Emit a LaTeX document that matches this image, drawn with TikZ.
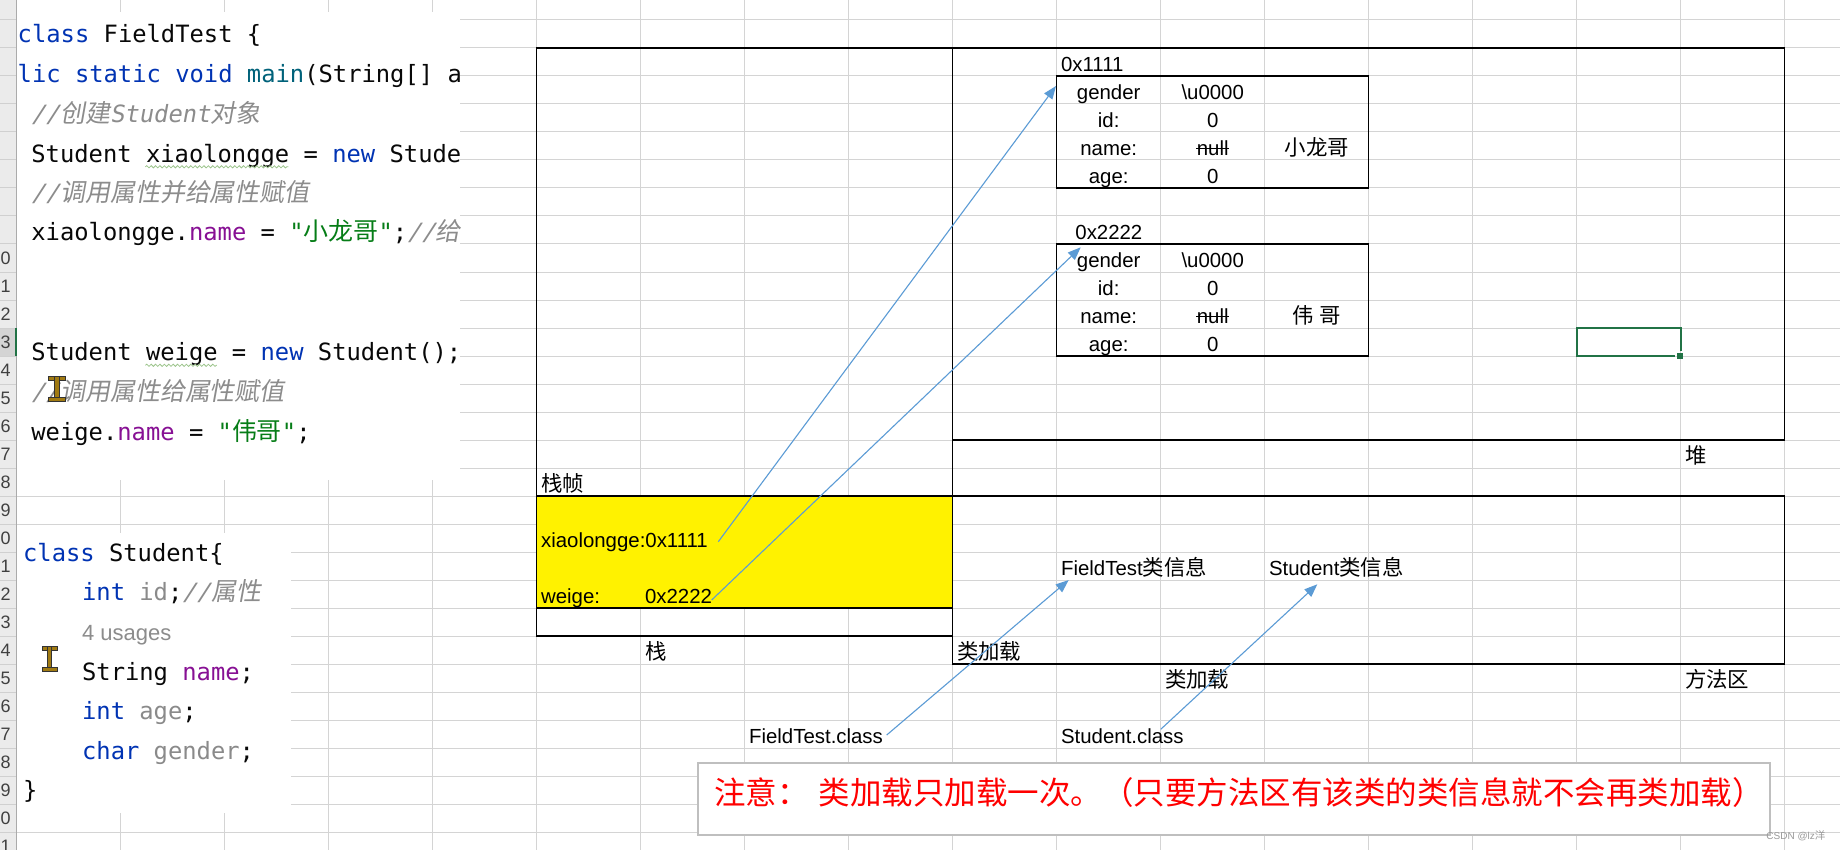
\documentclass[tikz,border=0pt]{standalone}
\usepackage{fontspec}
\setmainfont{Liberation Sans}
\newfontfamily\cjkf{Noto Sans CJK SC}[Scale=1.05]
\newfontfamily\codefont{DejaVu Sans Mono}
\newfontfamily\codeit{DejaVu Sans Mono}[FakeSlant=0.18]
\newfontfamily\codecjk{Noto Sans CJK SC}[Scale=1.05]
\newfontfamily\codecjkit{Noto Sans CJK SC}[Scale=1.05,FakeSlant=0.18]
\usetikzlibrary{arrows.meta,decorations.pathmorphing}
\definecolor{gridc}{HTML}{D4D4D4}
\definecolor{hdrbg}{HTML}{EBEBEB}
\definecolor{hdrline}{HTML}{D0D0D0}
\definecolor{hdrborder}{HTML}{ABABAB}
\definecolor{selgreen}{HTML}{217346}
\definecolor{arrowblue}{HTML}{5B9BD5}
\definecolor{ckwc}{HTML}{0033B3}
\definecolor{cfnc}{HTML}{00627A}
\definecolor{cfldc}{HTML}{871094}
\definecolor{cstrc}{HTML}{067D17}
\definecolor{ccmtc}{HTML}{8C8C8C}
\definecolor{cunc}{HTML}{8A8A8A}
\definecolor{ctxtc}{HTML}{080808}
\definecolor{wavyc}{HTML}{9BC48A}
\definecolor{beamc}{HTML}{A07A12}
\definecolor{noteborder}{HTML}{BFBFBF}
\newcommand\ckw[1]{\textcolor{ckwc}{#1}}
\newcommand\cfn[1]{\textcolor{cfnc}{#1}}
\newcommand\cfld[1]{\textcolor{cfldc}{#1}}
\newcommand\cstr[1]{\textcolor{cstrc}{#1}}
\newcommand\cun[1]{\textcolor{cunc}{#1}}
\newcommand\ccmt[1]{{\color{ccmtc}\codeit #1}}
\tikzset{
  gridline/.style={draw=gridc, line width=0.5pt},
  blk/.style={draw=black, line width=0.65pt},
  cell/.style={anchor=base west, inner sep=0pt, text=black, font=\fontsize{10.2pt}{12pt}\selectfont},
  cellc/.style={cell, anchor=base},
  codeline/.style={anchor=base west, inner sep=0pt, text=ctxtc, font=\codefont\fontsize{11.9pt}{14pt}\selectfont},
  hint/.style={anchor=base west, inner sep=0pt, text=ccmtc, font=\fontsize{11pt}{13pt}\selectfont},
  rownum/.style={anchor=base west, inner sep=0pt, text=black!75, font=\fontsize{9pt}{10pt}\selectfont},
  ptr/.style={draw=arrowblue, line width=0.55pt, -{Triangle[length=6.5pt,width=5pt]}, arrowblue},
  strike/.style={draw=black, line width=0.6pt},
  sel/.style={draw=selgreen, line width=0.85pt},
  wavy/.style={draw=wavyc, line width=0.4pt, decorate, decoration={snake, amplitude=0.55pt, segment length=2.2pt}},
  beam/.style={fill=beamc, draw=black!80, line width=0.3pt},
  notebox/.style={draw=noteborder, fill=white, line width=0.9pt},
  notetext/.style={anchor=base west, inner sep=0pt, text=red, font=\fontsize{15pt}{18pt}\selectfont\cjkf},
  wm/.style={anchor=base west, inner sep=0pt, text=black!40, font=\fontsize{5pt}{6pt}\selectfont}
}
\begin{document}
\begin{tikzpicture}[x=0.5pt,y=-0.5pt]
\useasboundingbox (0,0) rectangle (1840,850);
\fill[white] (0,0) rectangle (1840,850);
\clip (0,0) rectangle (1840,850);
% spreadsheet grid
\foreach \r in {0,...,29} \draw[gridline] (16.7,{20+28*\r}) -- (1840,{20+28*\r});
\foreach \c in {1,...,17} \draw[gridline] ({16.7+104*\c},0) -- ({16.7+104*\c},850);
% row header strip
\fill[hdrbg] (0,0) rectangle (16.7,850);
\fill[black!17] (0,328) rectangle (16.7,356);
\foreach \r in {0,...,29} \draw[draw=hdrline, line width=0.5pt] (0,{20+28*\r}) -- (16.7,{20+28*\r});
\draw[draw=hdrborder, line width=0.6pt] (16.7,0) -- (16.7,850);
\draw[draw=selgreen, line width=1pt] (15.9,328) -- (15.9,356);
\foreach \n/\d in {10/0,11/1,12/2,13/3,14/4,15/5,16/6,17/7,18/8,19/9,20/0,21/1,22/2,23/3,24/4,25/5,26/6,27/7,28/8,29/9,30/0,31/1}
  \node[rownum] (rn\n) at (0.3,{20+28*(\n-1)-7.5}) {\d};
% code panels
\fill[white] (17.2,12) rectangle (460,480);
\fill[white] (17.2,533) rectangle (291,813);
\begin{scope}
\clip (17.2,12) rectangle (460,480);
\node[codeline] (c1) at (17.3,42.7) {\ckw{class} FieldTest \{};
\node[codeline] (c2) at (17.3,82.2) {\ckw{lic static void} \cfn{main}(String[] a};
\node[codeline] (c3) at (31,122.3) {\ccmt{//{\codecjkit 创建}Student{\codecjkit 对象}}};
\node[codeline] (c4) at (31,162.2) {Student xiaolongge = \ckw{new} Stude};
\node[codeline] (c5) at (31,202) {\ccmt{//{\codecjkit 调用属性并给属性赋值}}};
\node[codeline] (c6) at (31,241) {xiaolongge.\cfld{name} = \cstr{"{\codecjk 小龙哥}"};\ccmt{//{\codecjkit 给}}};
\node[codeline] (c9) at (31,360.7) {Student weige = \ckw{new} Student();};
\node[codeline] (c10) at (31,400.3) {\ccmt{//{\codecjkit 调用属性给属性赋值}}};
\node[codeline] (c11) at (31,440.2) {weige.\cfld{name} = \cstr{"{\codecjk 伟哥}"};};
\draw[wavy] (145.4,166.8) -- (288.4,166.8);
\draw[wavy] (145.4,365.3) -- (216.9,365.3);
\fill[beam] (48,376) rectangle (65,380);
\fill[beam] (54.3,376) rectangle (59.3,401);
\fill[beam] (48,397) rectangle (65,401);
\end{scope}
\begin{scope}
\clip (17.2,533) rectangle (291,813);
\node[codeline] (s1) at (22.7,561) {\ckw{class} Student\{};
\node[codeline] (s2) at (81.7,600) {\ckw{int} \cun{id};\ccmt{//{\codecjkit 属性}}};
\node[hint] (s3) at (81.7,640) {4 usages};
\node[codeline] (s4) at (81.7,680) {String \cfld{name};};
\node[codeline] (s5) at (81.7,719.3) {\ckw{int} \cun{age};};
\node[codeline] (s6) at (81.7,759.3) {\ckw{char} \cun{gender};};
\node[codeline] (s7) at (22.7,798.3) {\}};
\fill[beam] (42,646) rectangle (57,650);
\fill[beam] (47.3,646) rectangle (51.7,671);
\fill[beam] (42,667) rectangle (57,671);
\end{scope}
% memory regions
\fill[yellow] (536.7,496) rectangle (952.7,608);
\draw[blk] (536.7,48) rectangle (952.7,636);
\draw[blk] (536.7,496) -- (952.7,496);
\draw[blk] (536.7,608) -- (952.7,608);
\draw[blk] (952.7,48) rectangle (1784.7,440);
\draw[blk] (952.7,496) rectangle (1784.7,664);
% object boxes
\draw[blk] (1056.7,76) rectangle (1368.7,188);
\draw[blk] (1056.7,244) rectangle (1368.7,356);
\node[cell] (addr1) at (1060.7,71.7) {0x1111};
\node[cellc] (o1gk) at (1108.7,99.5) {gender};
\node[cellc] (o1gv) at (1212.7,99.5) {\textbackslash u0000};
\node[cellc] (o1ik) at (1108.7,127.5) {id:};
\node[cellc] (o1iv) at (1212.7,127.5) {0};
\node[cellc] (o1nk) at (1108.7,155.5) {name:};
\node[cellc] (o1nv) at (1212.7,155.5) {null};
\node[cellc] (o1nx) at (1316.7,155.5) {{\cjkf 小龙哥}};
\node[cellc] (o1ak) at (1108.7,183.5) {age:};
\node[cellc] (o1av) at (1212.7,183.5) {0};
\draw[strike] (o1nv.west) -- (o1nv.east);
\node[cell] (addr2) at (1075,239.5) {0x2222};
\node[cellc] (o2gk) at (1108.7,267.5) {gender};
\node[cellc] (o2gv) at (1212.7,267.5) {\textbackslash u0000};
\node[cellc] (o2ik) at (1108.7,295.5) {id:};
\node[cellc] (o2iv) at (1212.7,295.5) {0};
\node[cellc] (o2nk) at (1108.7,323.5) {name:};
\node[cellc] (o2nv) at (1212.7,323.5) {null};
\node[cellc] (o2nx) at (1316.7,323.5) {{\cjkf 伟} {\cjkf 哥}};
\node[cellc] (o2ak) at (1108.7,351.5) {age:};
\node[cellc] (o2av) at (1212.7,351.5) {0};
\draw[strike] (o2nv.west) -- (o2nv.east);
% labels
\node[cell] (zhen) at (540.7,491.5) {{\cjkf 栈帧}};
\node[cell] (xl) at (540.7,547.5) {xiaolongge:0x1111};
\node[cell] (wg) at (540.7,603.5) {weige:};
\node[cell] (wga) at (644.7,603.5) {0x2222};
\node[cell] (zhan) at (644.7,659.5) {{\cjkf 栈}};
\node[cell] (lj1) at (956.7,659.5) {{\cjkf 类加载}};
\node[cell] (lj2) at (1164.7,687.5) {{\cjkf 类加载}};
\node[cell] (ffq) at (1684.7,687.5) {{\cjkf 方法区}};
\node[cell] (dui) at (1684.7,463.5) {{\cjkf 堆}};
\node[cell] (ftinfo) at (1060.7,575.5) {FieldTest{\cjkf 类信息}};
\node[cell] (stinfo) at (1268.7,575.5) {Student{\cjkf 类信息}};
\node[cell] (ftcls) at (748.7,743.5) {FieldTest.class};
\node[cell] (stcls) at (1060.7,743.5) {Student.class};
% pointers
\coordinate (a1s) at (718.3,541.7);
\coordinate (a1e) at (1056,86);
\coordinate (a2s) at (711.7,600);
\coordinate (a2e) at (1080.7,247.3);
\coordinate (a3s) at (886.7,735);
\coordinate (a3e) at (1068.7,580);
\coordinate (a4s) at (1160.7,729.3);
\coordinate (a4e) at (1317.3,584.3);
\draw[ptr] (a1s) -- (a1e);
\draw[ptr] (a2s) -- (a2e);
\draw[ptr] (a3s) -- (a3e);
\draw[ptr] (a4s) -- (a4e);
% selected cell
\draw[sel] (1680.7,351.3) -- (1680.7,328) -- (1576.7,328) -- (1576.7,356.3) -- (1675.4,356.3);
\fill[selgreen] (1676.7,352.7) rectangle (1682.7,358.7);
% note
\draw[notebox] (698,763.3) rectangle (1770,835);
\node[notetext] (note) at (714,804) {注意：\hspace{5pt}类加载只加载一次。（只要方法区有该类的类信息就不会再类加载）};
\node[wm] (wmark) at (1766,839) {CSDN @lz{\cjkf 洋}};
\end{tikzpicture}
\end{document}
